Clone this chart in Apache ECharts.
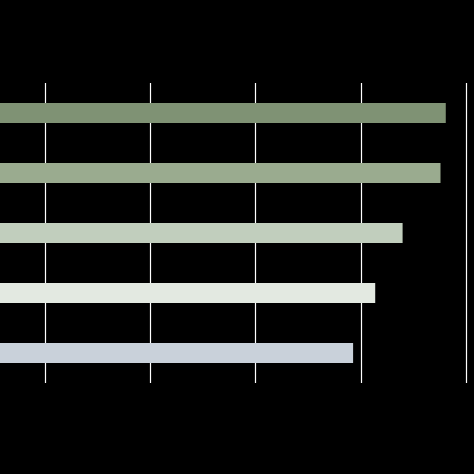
<!DOCTYPE html>
<html><head><meta charset="utf-8">
<script src="https://cdn.jsdelivr.net/npm/echarts@6/dist/echarts.min.js"></script>
<style>html,body{margin:0;background:#000}#c{width:474px;height:474px}</style>
</head><body><div id="c"></div>
<script>
var categories = ['A', 'B', 'C', 'D', 'E'];
var values = [5.81, 5.76, 5.40, 5.14, 4.93];
var colors = ['#7f9274', '#9aab8f', '#c1cebd', '#e3e9e1', '#c9d1da'];

var hidden = { axisLabel: { show: false }, axisLine: { show: false }, axisTick: { show: false } };
var chart = echarts.init(document.getElementById('c'));
chart.setOption({
  backgroundColor: '#000',
  grid: [
    { left: 0, right: 0, top: 83, bottom: 91 },
    { left: 45, right: 8, top: 83, bottom: 91 }
  ],
  xAxis: [
    Object.assign({ type: 'value', gridIndex: 0, min: 1.577, max: 6.078, splitLine: { show: false } }, hidden),
    Object.assign({ type: 'value', gridIndex: 1, min: 0, max: 4, interval: 1,
      splitLine: { lineStyle: { color: '#ffffff', width: 1.2 } } }, hidden)
  ],
  yAxis: [
    Object.assign({ type: 'category', gridIndex: 0, data: categories, inverse: true }, hidden),
    Object.assign({ type: 'category', gridIndex: 1, data: categories, inverse: true, splitLine: { show: false } }, hidden)
  ],
  series: [{
    type: 'bar', xAxisIndex: 0, yAxisIndex: 0, barWidth: 20, animation: false, z: 5,
    data: values.map(function (v, i) { return { value: v, itemStyle: { color: colors[i] } }; })
  }]
});
</script></body></html>
